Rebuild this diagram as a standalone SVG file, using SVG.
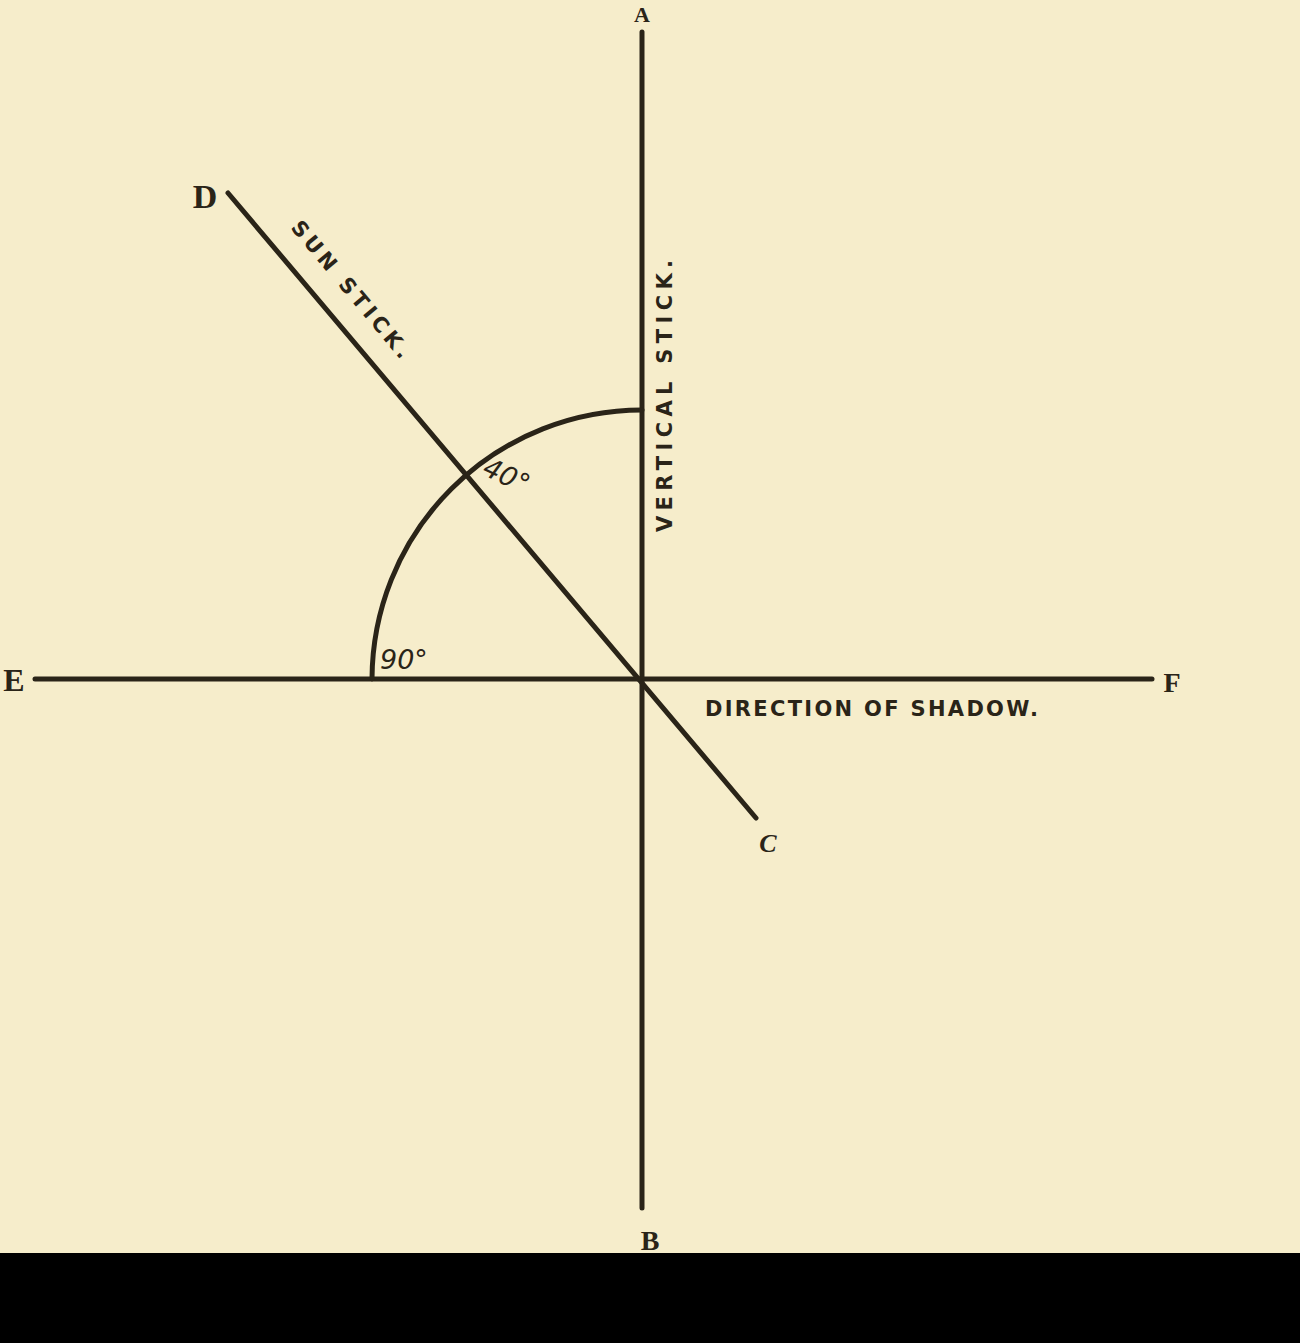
<svg xmlns="http://www.w3.org/2000/svg" width="1300" height="1343" viewBox="0 0 1300 1343">
<style>
.ln{stroke:#2a2418;stroke-width:5;fill:none;stroke-linecap:round}
.lbl{font-family:"Liberation Serif",serif;font-weight:bold;fill:#2a2418}
.cap{font-family:"DejaVu Sans","Liberation Sans",sans-serif;font-weight:bold;fill:#2a2418;font-size:21px}
.deg{font-family:"DejaVu Sans","Liberation Sans",sans-serif;font-style:italic;fill:#2a2418;font-size:27px}
</style>
<rect width="1300" height="1343" fill="#f6edcb"/>
<g id="connectors">
<line class="ln" x1="642" y1="32" x2="642" y2="1208"/>
<line class="ln" x1="35" y1="679" x2="1152" y2="679"/>
<line class="ln" x1="228" y1="193" x2="756" y2="818" stroke-width="4.5"/>
<path class="ln" d="M 372 679 A 270 270 0 0 1 642 410"/>
</g>
<g id="A"><text class="lbl" x="642" y="22" font-size="22" text-anchor="middle">A</text></g>
<g id="B"><text class="lbl" x="650" y="1250" font-size="28" text-anchor="middle">B</text></g>
<g id="E"><text class="lbl" x="14" y="691" font-size="32" text-anchor="middle">E</text></g>
<g id="F"><text class="lbl" x="1172" y="692" font-size="28" text-anchor="middle" font-weight="normal">F</text></g>
<g id="C"><text class="lbl" x="768" y="852" font-size="26" text-anchor="middle" font-style="italic">C</text></g>
<g id="D"><text class="lbl" x="205" y="208" font-size="34" text-anchor="middle">D</text></g>
<g id="sun-stick"><text class="cap" transform="translate(290,228) rotate(50)" textLength="172" lengthAdjust="spacing">SUN STICK.</text></g>
<g id="vertical-stick"><text class="cap" transform="translate(672,532) rotate(-90)" textLength="272" lengthAdjust="spacing">VERTICAL STICK.</text></g>
<g id="direction"><text class="cap" x="705" y="716" font-size="18" textLength="333" lengthAdjust="spacing">DIRECTION  OF  SHADOW.</text></g>
<g id="angle40"><text class="deg" transform="translate(481,474) rotate(25)">40°</text></g>
<g id="angle90"><text class="deg" x="380" y="669">90°</text></g>
<rect x="0" y="1253" width="1300" height="90" fill="#000"/>
</svg>
